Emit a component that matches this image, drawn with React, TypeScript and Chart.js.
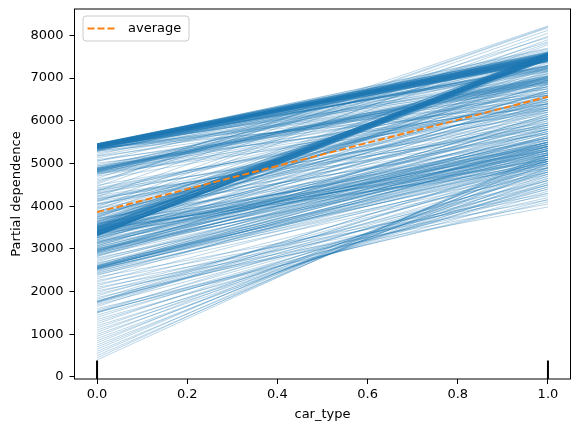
import { useEffect, useRef } from "react";
import { Chart, registerables } from "chart.js";

Chart.register(...registerables);

// feature grid (car_type) and averaged partial dependence
const gridValues = [0, 1];
const averageValues = [3860, 6565];

// individual conditional expectation lines: value at car_type = 0
const iceStart = [
  // starts near 5400
  5462, 5455, 5448, 5441, 5436, 5430, 5424, 5419, 5413, 5408,
  5403, 5398, 5392, 5387, 5382, 5377, 5371, 5366, 5360, 5354,
  5458, 5451, 5445, 5439, 5433, 5427, 5421, 5416, 5410, 5405,
  5400, 5395, 5389, 5384, 5379, 5373, 5368, 5362, 5357, 5350,
  5465, 5452, 5446, 5437, 5428, 5418, 5409, 5399, 5390, 5380,
  5370, 5358, 5345, 5338, 5330, 5322, 5315, 5305, 5298, 5290,
  5460, 5449, 5442, 5434, 5425, 5414, 5404, 5393, 5383, 5372,
  5457, 5444, 5431, 5420, 5411, 5401, 5391, 5381, 5369, 5348,
  5453, 5440, 5426, 5415, 5396, 5385, 5364, 5352, 5340, 5325,
  5447, 5435, 5422, 5406, 5394, 5376, 5355, 5335, 5310, 5280,
  // starts 4750-5300
  5290, 5250, 5210, 5170, 5130, 5090, 5050, 5010, 4970, 4930,
  4905, 4895, 4885, 4878, 4870, 4862, 4855, 4848, 4840, 4832,
  4825, 4818, 4810, 4802, 4795, 4788, 4780, 4770, 4760, 4750,
  4900, 4880, 4865, 4850, 4835, 4820, 4800, 4945, 5180, 5060,
  // starts 3900-4750
  4720, 4650, 4580, 4520, 4460, 4400, 4350, 4280, 4220, 4150,
  4100, 4050, 3980, 3920, 4700, 4620, 4550, 4490, 4430, 4370,
  4310, 4250, 4180, 4120, 4060, 3950,
  // starts 3300-3900
  3880, 3850, 3820, 3790, 3760, 3730, 3700, 3680, 3660, 3640,
  3620, 3600, 3585, 3570, 3555, 3540, 3528, 3516, 3504, 3492,
  3480, 3470, 3460, 3450, 3440, 3432, 3424, 3416, 3408, 3400,
  3393, 3386, 3379, 3372, 3365, 3358, 3351, 3344, 3337, 3330,
  3323, 3316, 3310, 3304, 3298, 3545, 3535, 3525, 3515, 3505,
  3495, 3485, 3475, 3465, 3455, 3445, 3435, 3425, 3415, 3405,
  3395, 3385, 3375, 3362, 3348, 3335, 3320, 3600, 3560, 3520,
  3500, 3470, 3440, 3410, 3390, 3370, 3350, 3340, 3325, 3312,
  3800, 3750, 3710, 3650, 3610, 3580, 3550, 3510, 3490, 3460,
  3430, 3420, 3398, 3382, 3368, 3355, 3345, 3333, 3318, 3305,
  3488, 3458, 3438, 3412, 3396, 3376, 3356, 3342, 3328, 3314,
  // starts 2800-4400, middle fan
  4380, 4290, 4210, 4130, 4040, 3960, 3890, 3830, 3770, 3710,
  3650, 3590, 3530, 3470, 3410, 3350, 3280, 3210, 3140, 3070,
  3010, 2950, 2890, 2830, 4330, 4170, 4010, 3860, 3740, 3620,
  3500, 3380, 3260, 3150, 3040, 2930, 2860, 3560, 3440, 3320,
  // starts 2900-3300
  3290, 3270, 3250, 3230, 3210, 3190, 3170, 3150, 3130, 3110,
  3090, 3070, 3050, 3030, 3010, 2990, 2980, 2970, 2960, 2950,
  2940, 2930, 2920, 2910, 2900, 3260, 3180, 3120, 3000, 2975,
  // starts 2400-2900
  2880, 2850, 2820, 2790, 2760, 2730, 2700, 2670, 2650, 2630,
  2615, 2605, 2598, 2590, 2582, 2575, 2568, 2560, 2552, 2545,
  2538, 2530, 2520, 2510, 2500, 2480, 2460, 2440, 2420, 2400,
  2590, 2570, 2555, 2540, 2525,
  // starts 1500-2400
  2380, 2340, 2300, 2260, 2220, 2180, 2140, 2100, 2060, 2020,
  1980, 1940, 1900, 1860, 1820, 1790, 1770, 1760, 1750, 1740,
  1720, 1690, 1650, 1600, 1560, 1530, 1520, 1510, 1500, 1765,
  // starts below 1500
  1450, 1400, 1350, 1300, 1250, 1200, 1150, 1100, 1050, 1000, 950,
  900, 850, 800, 750, 700, 650, 600, 550, 500, 450, 400,
];

// value of the same lines at car_type = 1
const iceEnd = [
  7560, 7520, 7480, 7600, 7440, 7250, 7510, 7390, 7545, 7470,
  7420, 7580, 6950, 7500, 7455, 7210, 7530, 7405, 6650, 7490,
  7590, 7465, 7540, 7280, 7415, 7505, 7650, 7435, 7555, 7385,
  7475, 6900, 7525, 7445, 7230, 7565, 7400, 7495, 7460, 6500,
  7610, 7550, 7430, 7515, 7190, 7485, 7570, 7410, 7000, 7535,
  7450, 7270, 6750, 7395, 7500, 7160, 6880, 7425, 7300, 6400,
  7595, 7490, 7680, 7540, 7470, 7240, 7520, 7460, 7575, 6980,
  7555, 7410, 7505, 7200, 7480, 7445, 7620, 7530, 7265, 6600,
  7585, 7465, 7510, 7420, 7040, 7500, 7175, 7440, 6920, 7390,
  7530, 7700, 7455, 7560, 7220, 7480, 6300, 7415, 7290, 6850,
  7450, 6800, 7380, 6600, 7100, 6450, 7520, 6250, 6900, 7300,
  7040, 6980, 7010, 6920, 7060, 6950, 6890, 7030, 6970, 6860,
  7000, 6940, 6870, 7480, 6800, 6700, 6550, 6400, 6300, 6200,
  7400, 7020, 6960, 6990, 7550, 6910, 6650, 6350, 7150, 6750,
  7950, 8220, 7850, 8180, 8120, 6500, 8050, 6300, 7980, 6100,
  7820, 5900, 7900, 7780, 6600, 6450, 8200, 6250, 6400, 5950,
  6150, 5800, 6050, 5700, 6350, 5850,
  6950, 7480, 5600, 7300, 6800, 7550, 5400, 7420, 7250, 6600,
  7580, 5300, 7500, 7450, 7600, 5200, 7380, 7520, 6500, 7470,
  7540, 5500, 7150, 7560, 5100, 7490, 7440, 7530, 6700, 7510,
  7460, 7570, 5350, 7050, 7500, 7545, 5000, 7430, 7585, 7480,
  7525, 5250, 7455, 7610, 7180, 7505, 6400, 7465, 7555, 5450,
  7435, 7575, 7495, 4950, 7515, 7120, 7590, 5150, 7475, 7535,
  7020, 7565, 5300, 7485, 7550, 7425, 7495, 6850, 7530, 5050,
  7460, 7520, 5550, 7230, 7590, 7450, 5200, 7505, 7470, 7540,
  6650, 7350, 5480, 7270, 7440, 5380, 7510, 7465, 4900, 7575,
  7485, 5250, 7525, 7100, 7560, 6550, 7500, 5100, 7475, 7535,
  7455, 7495, 5320, 7515, 7060, 7580, 5420, 7490, 7545, 7470,
  6400, 6750, 5900, 6550, 6200, 6650, 5700, 6300, 6850, 6000,
  6450, 5800, 6600, 6100, 5600, 6350, 5950, 6500, 5750, 6250,
  5500, 6150, 5650, 6050, 6800, 5850, 6700, 5550, 6250, 6950,
  6050, 5450, 6400, 5900, 5700, 6150, 5400, 6700, 5800, 6550,
  6200, 5400, 5900, 5300, 6300, 5600, 5100, 6000, 5500, 5800,
  5350, 6100, 5450, 5700, 5250, 5550, 5950, 5150, 5650, 5400,
  5850, 5200, 5500, 6050, 5300, 5750, 5450, 5600, 5050, 5350,
  5600, 5200, 5750, 5000, 5400, 5300, 5550, 4900, 5450, 5150,
  5350, 5050, 5500, 5250, 4950, 5400, 5100, 5650, 5200, 5300,
  4850, 5450, 5000, 5250, 5100, 4800, 5350, 4900, 5050, 4750,
  5800, 5150, 5300, 5500, 5050,
  5200, 4300, 5400, 4250, 5000, 4150, 4800, 4050, 4600, 3980,
  4700, 4500, 4900, 4200, 5100, 4400, 4950, 4600, 4850, 4750,
  4650, 4450, 5050, 4100, 4550, 4150, 4800, 4350, 4500, 5150,
  4400, 4600, 4300, 4500, 4800, 4450, 4700, 4550, 4900, 4650, 5000,
  4750, 4850, 5100, 4900, 5050, 5150, 5000, 5200, 5100, 5250, 5220,
];

const xTicks = [0, 0.2, 0.4, 0.6, 0.8, 1.0];
const yTicks = [0, 1000, 2000, 3000, 4000, 5000, 6000, 7000, 8000];
const deciles = [0, 1];

const FONT = "'DejaVu Sans', sans-serif";

export default function App() {
  const ref = useRef<HTMLCanvasElement | null>(null);

  useEffect(() => {
    if (!ref.current) return;
    const n = Math.min(iceStart.length, iceEnd.length);
    const iceSets: any[] = [];
    for (let i = 0; i < n; i++) {
      iceSets.push({
        label: "",
        data: [
          { x: gridValues[0], y: iceStart[i] },
          { x: gridValues[1], y: iceEnd[i] },
        ],
        borderColor: "rgba(31,119,180,0.3)",
        borderWidth: 1,
        pointRadius: 0,
        fill: false,
        order: 1,
      });
    }
    const avgSet = {
      label: "average",
      data: gridValues.map((x, i) => ({ x, y: averageValues[i] })),
      borderColor: "#ff7f0e",
      borderWidth: 1.9,
      borderDash: [7, 3],
      pointRadius: 0,
      fill: false,
      order: 0,
    };

    const framePlugin = {
      id: "frame",
      afterDatasetsDraw(chart: any) {
        const { ctx, chartArea, scales } = chart;
        ctx.save();
        ctx.strokeStyle = "#000";
        ctx.lineWidth = 2;
        const h = chartArea.bottom - chartArea.top;
        deciles.forEach((d) => {
          const px = scales.x.getPixelForValue(d);
          ctx.beginPath();
          ctx.moveTo(px, chartArea.bottom);
          ctx.lineTo(px, chartArea.bottom - 0.05 * h);
          ctx.stroke();
        });
        ctx.lineWidth = 1;
        ctx.strokeRect(chartArea.left, chartArea.top, chartArea.right - chartArea.left, chartArea.bottom - chartArea.top);
        ctx.restore();
      },
      afterDraw(chart: any) {
        const { ctx, chartArea } = chart;
        const x0 = chartArea.left + 8.5;
        const y0 = chartArea.top + 7;
        const w = 106;
        const hh = 25;
        ctx.save();
        ctx.beginPath();
        (ctx as any).roundRect(x0, y0, w, hh, 3);
        ctx.fillStyle = "rgba(255,255,255,0.8)";
        ctx.fill();
        ctx.strokeStyle = "#cccccc";
        ctx.lineWidth = 1;
        ctx.stroke();
        ctx.beginPath();
        ctx.setLineDash([7, 3]);
        ctx.strokeStyle = "#ff7f0e";
        ctx.lineWidth = 1.9;
        ctx.moveTo(x0 + 4.5, y0 + 12.5);
        ctx.lineTo(x0 + 32.5, y0 + 12.5);
        ctx.stroke();
        ctx.setLineDash([]);
        ctx.fillStyle = "#000";
        ctx.font = `13px ${FONT}`;
        ctx.textBaseline = "middle";
        ctx.textAlign = "left";
        ctx.fillText(avgSet.label, x0 + 45, y0 + 13);
        ctx.restore();
      },
    };

    const chart = new Chart(ref.current, {
      type: "line",
      data: { datasets: [avgSet, ...iceSets] },
      options: {
        animation: false,
        responsive: true,
        maintainAspectRatio: false,
        events: [],
        layout: { padding: { top: 9, right: 9.5, left: 0, bottom: 0 } },
        plugins: { legend: { display: false }, tooltip: { enabled: false } },
        scales: {
          x: {
            type: "linear",
            min: -0.05,
            max: 1.05,
            afterBuildTicks: (s: any) => {
              s.ticks = xTicks.map((v) => ({ value: v }));
            },
            afterFit: (s: any) => {
              s.height = 53;
              s.paddingLeft = 0;
              s.paddingRight = 0;
            },
            ticks: {
              autoSkip: false,
              maxRotation: 0,
              padding: 3,
              color: "#000",
              font: { family: FONT, size: 13 },
              callback: (v: any) => Number(v).toFixed(1),
            },
            grid: { drawOnChartArea: false, drawTicks: true, tickLength: 5, color: "#000", lineWidth: 1 },
            border: { display: false },
            title: {
              display: true,
              text: "car_type",
              color: "#000",
              font: { family: FONT, size: 13 },
              padding: { top: 0, bottom: 10 },
            },
          },
          y: {
            type: "linear",
            min: -47,
            max: 8618,
            afterBuildTicks: (s: any) => {
              s.ticks = yTicks.map((v) => ({ value: v }));
            },
            afterFit: (s: any) => {
              s.width = 74.5;
              s.paddingTop = 0;
              s.paddingBottom = 0;
            },
            ticks: {
              autoSkip: false,
              padding: 6,
              color: "#000",
              font: { family: FONT, size: 13 },
              callback: (v: any) => String(v),
            },
            grid: { drawOnChartArea: false, drawTicks: true, tickLength: 5, color: "#000", lineWidth: 1 },
            border: { display: false },
            title: {
              display: true,
              text: "Partial dependence",
              color: "#000",
              font: { family: FONT, size: 13 },
              padding: { top: 9, bottom: 0 },
            },
          },
        },
      },
      plugins: [framePlugin],
    });
    return () => chart.destroy();
  }, []);

  return (
    <div style={{ position: "absolute", left: 0, top: 0, width: 580, height: 432, background: "#fff" }}>
      <canvas ref={ref} />
    </div>
  );
}
